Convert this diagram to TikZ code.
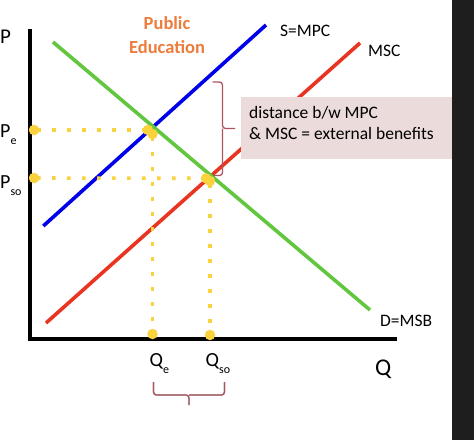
\documentclass[tikz,border=0pt]{standalone}
\usepackage{fontspec}
\setmainfont{Carlito}
\definecolor{sblue}{RGB}{0,0,235}
\definecolor{mred}{RGB}{232,52,32}
\definecolor{dgreen}{RGB}{98,198,62}
\definecolor{ydot}{RGB}{250,210,62}
\definecolor{orng}{RGB}{237,125,60}
\definecolor{boxpink}{RGB}{236,219,219}
\definecolor{brc}{RGB}{170,85,95}
\definecolor{darkbar}{RGB}{30,30,30}
\tikzset{
  axis/.style={line width=3.4pt, black},
  curve/.style={line width=3.6pt},
  dotline/.style={ydot, line width=3.6pt, dash pattern=on 3.6pt off 11.4pt},
  ydotn/.style={circle, fill=ydot, minimum size=10.5pt, inner sep=0pt},
  lbl/.style={font=\fontsize{17.5}{21}\selectfont, inner sep=0pt, anchor=base west},
  bracestyle/.style={brc, line width=1.3pt, rounded corners=3pt},
  braceshadow/.style={black!25, line width=1.6pt, rounded corners=3pt},
}
\newcommand{\ax}[2]{{\fontsize{20}{24}\selectfont #1}\raisebox{-7.5pt}{\fontsize{12}{14}\selectfont #2}}
\begin{document}
\begin{tikzpicture}[x=1pt,y=-1pt]
\useasboundingbox (0,0) rectangle (474,440);
\fill[white] (0,0) rectangle (474,440);
\fill[darkbar] (452,0) rectangle (474,440);

% axes
\coordinate (Ytop) at (30,29);
\coordinate (O) at (30,339);
\coordinate (Xend) at (397,339);
\draw[axis] (Ytop) -- (O) -- (Xend);

% curves
\coordinate (S1) at (43.3,226);
\coordinate (S2) at (266,25);
\coordinate (M1) at (46,323);
\coordinate (M2) at (360,43);
\coordinate (D1) at (53,42);
\coordinate (D2) at (370,310);
\draw[curve, sblue] (S1) -- (S2);
\draw[curve, mred] (M1) -- (M2);
\draw[curve, dgreen] (D1) -- (D2);

% dotted guide lines
\coordinate (PeA) at (34,130);
\coordinate (Ea) at (148,130);
\coordinate (Eb) at (152.5,134);
\coordinate (PsoA) at (34,178);
\coordinate (SOa) at (206,178.3);
\coordinate (SOb) at (210,181);
\coordinate (QeA) at (152.5,334);
\coordinate (QsoA) at (210,335);
\draw[dotline, dash phase=-3] (PeA) -- (Ea);
\draw[dotline, dash phase=-3] (PsoA) -- (SOa);
\draw[dotline, dash phase=-3] (Eb) -- (QeA);
\draw[dotline, dash phase=-3] (SOb) -- (QsoA);

\node[ydotn] (pe) at (PeA) {};
\node[ydotn] (pso) at (PsoA) {};
\node[ydotn] (e1) at (Ea) {};
\node[ydotn] (e2) at (Eb) {};
\node[ydotn] (so1) at (SOa) {};
\node[ydotn] (so2) at (SOb) {};
\node[ydotn] (qe) at (QeA) {};
\node[ydotn] (qso) at (QsoA) {};

% title
\node[font=\fontsize{18.5}{22}\selectfont\bfseries, text=orng, inner sep=0pt, anchor=base] (t1) at (167,29) {Public};
\node[font=\fontsize{18.5}{22}\selectfont\bfseries, text=orng, inner sep=0pt, anchor=base] (t2) at (167,53) {Education};

% curve labels
\node[lbl] (smpc) at (280,36) {S=MPC};
\node[lbl] (msc) at (368,56) {MSC};
\node[lbl] (dmsb) at (380,326) {D=MSB};

% axis labels
\node[inner sep=0pt, anchor=base west, font=\fontsize{21}{25}\selectfont] (P) at (0,43.5) {P};
\node[inner sep=0pt, anchor=base west] (Pe) at (0,137) {\ax{P}{e}};
\node[inner sep=0pt, anchor=base west] (Pso) at (0,188) {\ax{P}{so}};
\node[inner sep=0pt, anchor=base west] (Qe) at (149.5,366) {\ax{Q}{e}};
\node[inner sep=0pt, anchor=base west] (Qso) at (205.5,366) {\ax{Q}{so}};
\node[inner sep=0pt, anchor=base west, font=\fontsize{24}{28}\selectfont] (Q) at (375,375) {Q};

% annotation box
\fill[boxpink] (241,97) rectangle (452,159);
\node[lbl] (b1) at (249,118.3) {distance b/w MPC};
\node[lbl] (b2) at (249,139) {\& MSC = external benefits};

% vertical brace
\coordinate (VtE) at (212.5,82);
\coordinate (VtC) at (222.5,82);
\coordinate (Vm) at (222.5,128.5);
\coordinate (Vtip) at (235,128.5);
\coordinate (VbC) at (222.5,175.5);
\coordinate (VbE) at (213,175.5);
\draw[bracestyle] (VtE) -- (VtC) -- (Vm) -- (Vtip);
\draw[bracestyle] (Vm) -- (VbC) -- (VbE);

% horizontal brace
\coordinate (HlE) at (153.5,382);
\coordinate (HlC) at (153.5,395);
\coordinate (Hm) at (189,395);
\coordinate (Htip) at (189,405);
\coordinate (HrC) at (224.5,395);
\coordinate (HrE) at (224.5,382);
\begin{scope}[shift={(1.2,1.5)}]
\draw[braceshadow] (HlE) -- (HlC) -- (Hm) -- (Htip);
\draw[braceshadow] (Hm) -- (HrC) -- (HrE);
\end{scope}
\draw[bracestyle] (HlE) -- (HlC) -- (Hm) -- (Htip);
\draw[bracestyle] (Hm) -- (HrC) -- (HrE);
\end{tikzpicture}
\end{document}
